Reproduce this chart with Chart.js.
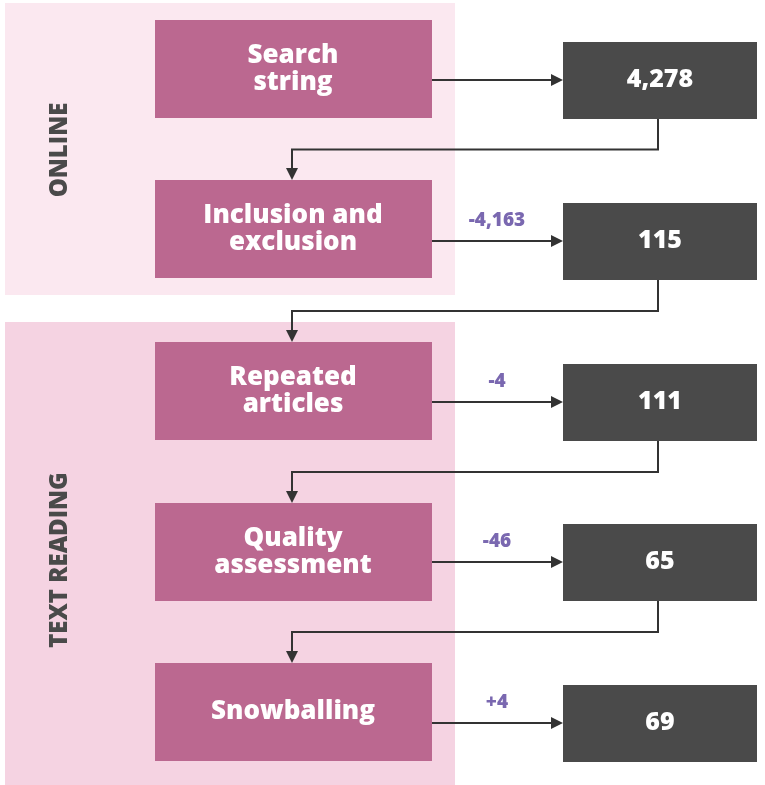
<!DOCTYPE html>
<html><head><meta charset="utf-8">
<script src="https://cdn.jsdelivr.net/npm/chart.js@4"></script>
<style>html,body{margin:0;padding:0;background:#fff}#w{width:765px;height:785px}</style>
</head><body><div id="w"><canvas id="c"></canvas></div>
<script>
const steps = [["Search","string"],["Inclusion and","exclusion"],["Repeated","articles"],["Quality","assessment"],["Snowballing"]];
const counts = ["4,278","115","111","65","69"];
const deltas = ["","-4,163","-4","-46","+4"];
const phases = ["ONLINE","TEXT READING"];
// layout (pixel space mapped through linear scales 0..765, 0..785)
const stepTop = [20,180,342,503,663];
const countTop = [42,203,364,524,685];

const flow = {
  id:'flow',
  afterDraw(chart){
    const ctx=chart.ctx, xs=chart.scales.x, ys=chart.scales.y;
    const X=v=>xs.getPixelForValue(v), Y=v=>ys.getPixelForValue(v);
    const rect=(x0,y0,x1,y1,c)=>{ctx.fillStyle=c;ctx.fillRect(X(x0),Y(y0),X(x1)-X(x0),Y(y1)-Y(y0));};
    rect(5,3,455,295,'#fbe8f0');
    rect(5,322,455,785,'#f5d3e2');
    ctx.save();
    ctx.fillStyle='#4a4a4a';ctx.font='800 24px "Open Sans"';ctx.textAlign='center';ctx.textBaseline='middle';
    [[150,phases[0]],[560,phases[1]]].forEach(([cy,t])=>{ctx.save();ctx.translate(X(60),Y(cy));ctx.rotate(-Math.PI/2);ctx.fillText(t,0,0);ctx.restore();});
    ctx.restore();
    const arrowHead=(x,y,dir)=>{ctx.beginPath();
      if(dir==='r'){ctx.moveTo(x,y);ctx.lineTo(x-12,y-6);ctx.lineTo(x-12,y+6);}
      else {ctx.moveTo(x,y);ctx.lineTo(x-6,y-12);ctx.lineTo(x+6,y-12);}
      ctx.closePath();ctx.fill();};
    steps.forEach((s,i)=>{
      rect(155,stepTop[i],432,stepTop[i]+98,'#bb6890');
      rect(563,countTop[i],757,countTop[i]+77,'#4a4a4a');
      ctx.fillStyle='#fff';ctx.font='800 26px "Open Sans"';ctx.textAlign='center';ctx.textBaseline='middle';
      const cy=stepTop[i]+49, lh=27;
      s.forEach((l,k)=>ctx.fillText(l,X(293),Y(cy+(k-(s.length-1)/2)*lh)));
      ctx.font='800 25px "Open Sans"';
      ctx.fillText(counts[i],X(660),Y(countTop[i]+38));
      const ay=countTop[i]+38;
      ctx.strokeStyle='#333';ctx.fillStyle='#333';ctx.lineWidth=2;
      ctx.beginPath();ctx.moveTo(X(432),Y(ay));ctx.lineTo(X(561),Y(ay));ctx.stroke();
      arrowHead(X(563),Y(ay),'r');
      if(deltas[i]){ctx.fillStyle='#7a68b0';ctx.font='800 19px "Open Sans"';ctx.fillText(deltas[i],X(497),Y(ay-20));}
      if(i<steps.length-1){
        const yb=countTop[i]+77, mid=(yb+stepTop[i+1])/2;
        ctx.strokeStyle='#333';ctx.fillStyle='#333';
        ctx.beginPath();ctx.moveTo(X(658),Y(yb));ctx.lineTo(X(658),Y(mid));ctx.lineTo(X(292),Y(mid));ctx.lineTo(X(292),Y(stepTop[i+1]-2));ctx.stroke();
        arrowHead(X(292),Y(stepTop[i+1]),'d');
      }
    });
  }
};
new Chart(document.getElementById('c'),{
  type:'scatter',
  data:{datasets:[{data:[]}]},
  options:{responsive:true,maintainAspectRatio:false,animation:false,
    layout:{padding:0},
    plugins:{legend:{display:false},tooltip:{enabled:false}},
    scales:{x:{type:'linear',min:0,max:765,display:false},
            y:{type:'linear',min:0,max:785,reverse:true,display:false}}},
  plugins:[flow]
});
</script></body></html>
